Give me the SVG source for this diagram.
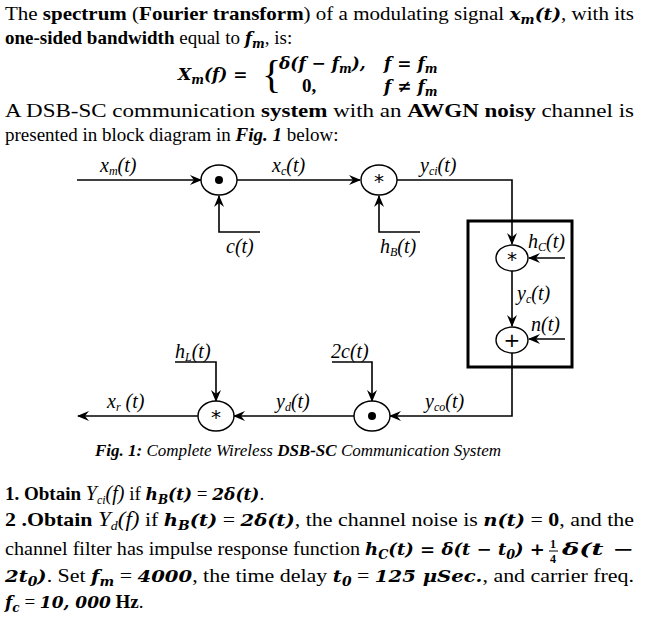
<svg xmlns="http://www.w3.org/2000/svg" width="645" height="622" viewBox="0 0 645 622">
<style>
text{font-family:"Liberation Serif",serif;font-size:19px;fill:#000}
.b{font-weight:bold}
.bi{font-weight:bold;font-style:italic;font-family:"DejaVu Serif",serif;font-size:17px}
.i{font-style:italic}
.lab{font-style:italic;font-size:20px;font-family:"Liberation Serif",serif}
.sub{font-size:12px}
.ln{stroke:#000;stroke-width:1.6;fill:none}
.nd{fill:#fff;stroke:#000;stroke-width:1.4}
.op{font-family:"DejaVu Sans",sans-serif;font-size:20px;text-anchor:middle}
</style>
<defs>
<marker id="a" viewBox="0 0 12 10" refX="11" refY="5" markerWidth="12" markerHeight="10" markerUnits="userSpaceOnUse" orient="auto">
<path d="M0,0 L12,5 L0,10 L4,5 Z" fill="#000"/>
</marker>
</defs>
<rect width="645" height="622" fill="#fff"/>
<g id="intro">
<text x="5" y="20" textLength="629" lengthAdjust="spacingAndGlyphs">The <tspan class="b">spectrum</tspan> (<tspan class="b">Fourier transform</tspan>) of a modulating signal <tspan class="bi">x<tspan class="sub" dy="4">m</tspan><tspan dy="-4">(t)</tspan></tspan>, with its</text>
<text x="5" y="44"><tspan class="b">one-sided bandwidth</tspan> equal to <tspan class="bi">f<tspan class="sub" dy="4">m</tspan></tspan><tspan dy="-4">, is:</tspan></text>
<text x="178" y="80" class="bi">X<tspan class="sub" dy="4">m</tspan><tspan dy="-4">(f) =</tspan></text>
<text x="262" y="88" style="font-size:40px">{</text>
<text x="279" y="69" class="bi">δ(f − f<tspan class="sub" dy="4">m</tspan><tspan dy="-4">),</tspan></text>
<text x="384" y="69" class="bi">f = f<tspan class="sub" dy="4">m</tspan></text>
<text x="302" y="92" class="b">0,</text>
<text x="384" y="92" class="bi">f ≠ f<tspan class="sub" dy="4">m</tspan></text>
<text x="5" y="117" textLength="629" lengthAdjust="spacingAndGlyphs">A DSB-SC communication <tspan class="b">system</tspan> with an <tspan class="b">AWGN noisy</tspan> channel is</text>
<text x="5" y="141">presented in block diagram in <tspan class="b i">Fig. 1</tspan> below:</text>
</g>
<g id="channel-box"><rect x="468" y="221" width="104" height="146" fill="none" stroke="#000" stroke-width="3"/></g>
<g id="connectors">
<line class="ln" x1="77" y1="180" x2="201" y2="180" marker-end="url(#a)"/>
<line class="ln" x1="237" y1="180" x2="360" y2="180" marker-end="url(#a)"/>
<polyline class="ln" points="260,232 219,232 219,196" marker-end="url(#a)"/>
<polyline class="ln" points="420,232 379,232 379,196" marker-end="url(#a)"/>
<polyline class="ln" points="397,180 512,180 512,244" marker-end="url(#a)"/>
<line class="ln" x1="565" y1="258" x2="529" y2="258" marker-end="url(#a)"/>
<line class="ln" x1="512" y1="271" x2="512" y2="326" marker-end="url(#a)"/>
<line class="ln" x1="565" y1="339" x2="529" y2="339" marker-end="url(#a)"/>
<polyline class="ln" points="512,353 512,416 390,416" marker-end="url(#a)"/>
<line class="ln" x1="354" y1="416" x2="234" y2="416" marker-end="url(#a)"/>
<line class="ln" x1="198" y1="416" x2="78" y2="416" marker-end="url(#a)"/>
<polyline class="ln" points="175,362 216,362 216,401" marker-end="url(#a)"/>
<polyline class="ln" points="332,362 372,362 372,401" marker-end="url(#a)"/>
</g>
<g id="mult1"><ellipse class="nd" cx="219" cy="180" rx="18" ry="15"/><circle cx="219" cy="180" r="4" fill="#000"/></g>
<g id="conv1"><ellipse class="nd" cx="379" cy="180" rx="18" ry="15"/><text class="op" x="379" y="188">*</text></g>
<g id="convc"><ellipse class="nd" cx="512" cy="258" rx="16" ry="13"/><text class="op" x="512" y="266">*</text></g>
<g id="add"><ellipse class="nd" cx="512" cy="340" rx="16" ry="13"/><text class="op" x="512" y="347">+</text></g>
<g id="mult2"><ellipse class="nd" cx="372" cy="416" rx="18" ry="15"/><circle cx="372" cy="416" r="4" fill="#000"/></g>
<g id="conv2"><ellipse class="nd" cx="216" cy="416" rx="18" ry="15"/><text class="op" x="216" y="424">*</text></g>
<g id="labels">
<text class="lab" x="100" y="172">x<tspan class="sub" dy="3">m</tspan><tspan dy="-3">(t)</tspan></text>
<text class="lab" x="272" y="172">x<tspan class="sub" dy="3">c</tspan><tspan dy="-3">(t)</tspan></text>
<text class="lab" x="226" y="253">c(t)</text>
<text class="lab" x="380" y="253">h<tspan class="sub" dy="3">B</tspan><tspan dy="-3">(t)</tspan></text>
<text class="lab" x="420" y="172">y<tspan class="sub" dy="3">ci</tspan><tspan dy="-3">(t)</tspan></text>
<text class="lab" x="528" y="248">h<tspan class="sub" dy="3">C</tspan><tspan dy="-3">(t)</tspan></text>
<text class="lab" x="517" y="300">y<tspan class="sub" dy="3">c</tspan><tspan dy="-3">(t)</tspan></text>
<text class="lab" x="531" y="331">n(t)</text>
<text class="lab" x="175" y="358">h<tspan class="sub" dy="3">L</tspan><tspan dy="-3">(t)</tspan></text>
<text class="lab" x="331" y="358">2c(t)</text>
<text class="lab" x="107" y="408">x<tspan class="sub" dy="3">r</tspan><tspan dy="-3"> (t)</tspan></text>
<text class="lab" x="276" y="408">y<tspan class="sub" dy="3">d</tspan><tspan dy="-3">(t)</tspan></text>
<text class="lab" x="425" y="408">y<tspan class="sub" dy="3">co</tspan><tspan dy="-3">(t)</tspan></text>
<text class="i" x="95" y="456" style="font-size:17px"><tspan class="b">Fig. 1:</tspan> Complete Wireless <tspan class="b">DSB-SC</tspan> Communication System</text>
</g>
<g id="questions">
<text x="5" y="500"><tspan class="b">1. Obtain </tspan><tspan class="lab"> Y<tspan class="sub" dy="4">ci</tspan><tspan dy="-4">(f)</tspan></tspan> if <tspan class="bi">h<tspan class="sub" dy="4">B</tspan><tspan dy="-4">(t)</tspan></tspan> = <tspan class="bi">2δ(t)</tspan>.</text>
<text x="5" y="526" textLength="629" lengthAdjust="spacingAndGlyphs"><tspan class="b">2 .Obtain </tspan><tspan class="lab"> Y<tspan class="sub" dy="4">d</tspan><tspan dy="-4">(f)</tspan></tspan> if <tspan class="bi">h<tspan class="sub" dy="4">B</tspan><tspan dy="-4">(t)</tspan></tspan> = <tspan class="bi">2δ(t)</tspan>, the channel noise is <tspan class="bi">n(t)</tspan> = <tspan class="b">0</tspan>, and the</text>
<text x="5" y="555" textLength="540" lengthAdjust="spacingAndGlyphs">channel filter has impulse response function <tspan class="bi">h<tspan class="sub" dy="4">C</tspan><tspan dy="-4">(t) = δ(t − t</tspan><tspan class="sub" dy="4">0</tspan><tspan dy="-4">) +</tspan></tspan></text>
<text x="550" y="548" class="b" style="font-size:12px">1</text>
<line x1="549" y1="551" x2="558" y2="551" stroke="#000" stroke-width="1"/>
<text x="550" y="563" class="b" style="font-size:12px">4</text>
<text x="562" y="555" class="bi" textLength="72" lengthAdjust="spacingAndGlyphs">δ(t −</text>
<text x="5" y="582" textLength="629" lengthAdjust="spacingAndGlyphs"><tspan class="bi">2t<tspan class="sub" dy="4">0</tspan><tspan dy="-4">)</tspan></tspan>. Set <tspan class="bi">f<tspan class="sub" dy="4">m</tspan></tspan><tspan dy="-4"> = </tspan><tspan class="bi">4000</tspan>, the time delay <tspan class="bi">t<tspan class="sub" dy="4">0</tspan></tspan><tspan dy="-4"> = </tspan><tspan class="bi">125 μSec.</tspan>, and carrier freq.</text>
<text x="5" y="608"><tspan class="bi">f<tspan class="sub" dy="4">c</tspan></tspan><tspan dy="-4"> = </tspan><tspan class="bi">10, 000</tspan><tspan class="b"> Hz</tspan>.</text>
</g>
</svg>
